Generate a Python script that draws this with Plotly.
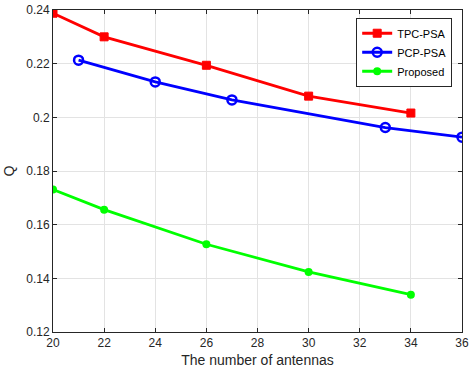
import plotly.graph_objects as go

tpc_x = [20, 22, 26, 30, 34]
tpc_y = [0.2388, 0.2300, 0.2194, 0.2079, 0.2016]
pcp_x = [21, 24, 27, 33, 36]
pcp_y = [0.2213, 0.2132, 0.2065, 0.1962, 0.1926]
prop_x = [20, 22, 26, 30, 34]
prop_y = [0.1731, 0.1656, 0.1527, 0.1424, 0.1339]

x_ticks = [20, 22, 24, 26, 28, 30, 32, 34, 36]
y_ticks = [0.12, 0.14, 0.16, 0.18, 0.2, 0.22, 0.24]
y_tick_text = ["0.12", "0.14", "0.16", "0.18", "0.2", "0.22", "0.24"]

FONT = "Liberation Sans, Arial"

fig = go.Figure()
fig.add_trace(go.Scatter(x=tpc_x, y=tpc_y, name="TPC-PSA", mode="lines+markers",
                         line=dict(color="#ff0000", width=2.8),
                         marker=dict(symbol="square", size=8, color="#ff0000",
                                     line=dict(color="#ff0000", width=1))))
fig.add_trace(go.Scatter(x=pcp_x, y=pcp_y, name="PCP-PSA", mode="lines+markers",
                         line=dict(color="#0000ff", width=2.8),
                         marker=dict(symbol="circle-open", size=9, color="#0000ff",
                                     line=dict(color="#0000ff", width=2.5))))
fig.add_trace(go.Scatter(x=prop_x, y=prop_y, name="Proposed", mode="lines+markers",
                         line=dict(color="#00ff00", width=2.8),
                         marker=dict(symbol="circle", size=8, color="#00ff00")))

axis_common = dict(showgrid=True, gridcolor="#e3e3e3", gridwidth=1,
                   showline=True, linecolor="#262626", linewidth=1, mirror="ticks",
                   ticks="inside", ticklen=4, tickcolor="#262626",
                   tickfont=dict(family=FONT, size=12, color="#262626"),
                   zeroline=False, automargin=False)

fig.update_xaxes(range=[20, 36], tickvals=x_ticks, **axis_common,
                 title=dict(text="The number of antennas",
                            font=dict(family=FONT, size=14, color="#262626"),
                            standoff=5))
fig.update_yaxes(range=[0.12, 0.24], tickvals=y_ticks, ticktext=y_tick_text, **axis_common,
                 title=dict(text="Q",
                            font=dict(family=FONT, size=14, color="#262626"),
                            standoff=8))

fig.update_layout(width=474, height=375, margin=dict(l=53, r=12, t=10, b=43),
                  plot_bgcolor="white", paper_bgcolor="white",
                  legend=dict(x=0.976, y=0.976, xanchor="right", yanchor="top",
                              bgcolor="white", bordercolor="#262626", borderwidth=1,
                              font=dict(family=FONT, size=11, color="#000000"),
                              tracegroupgap=0, itemwidth=30),
                  showlegend=True)

fig.write_html("out.html", config={"displayModeBar": False},
               post_script="document.body.style.margin='0';document.body.style.padding='0';")
